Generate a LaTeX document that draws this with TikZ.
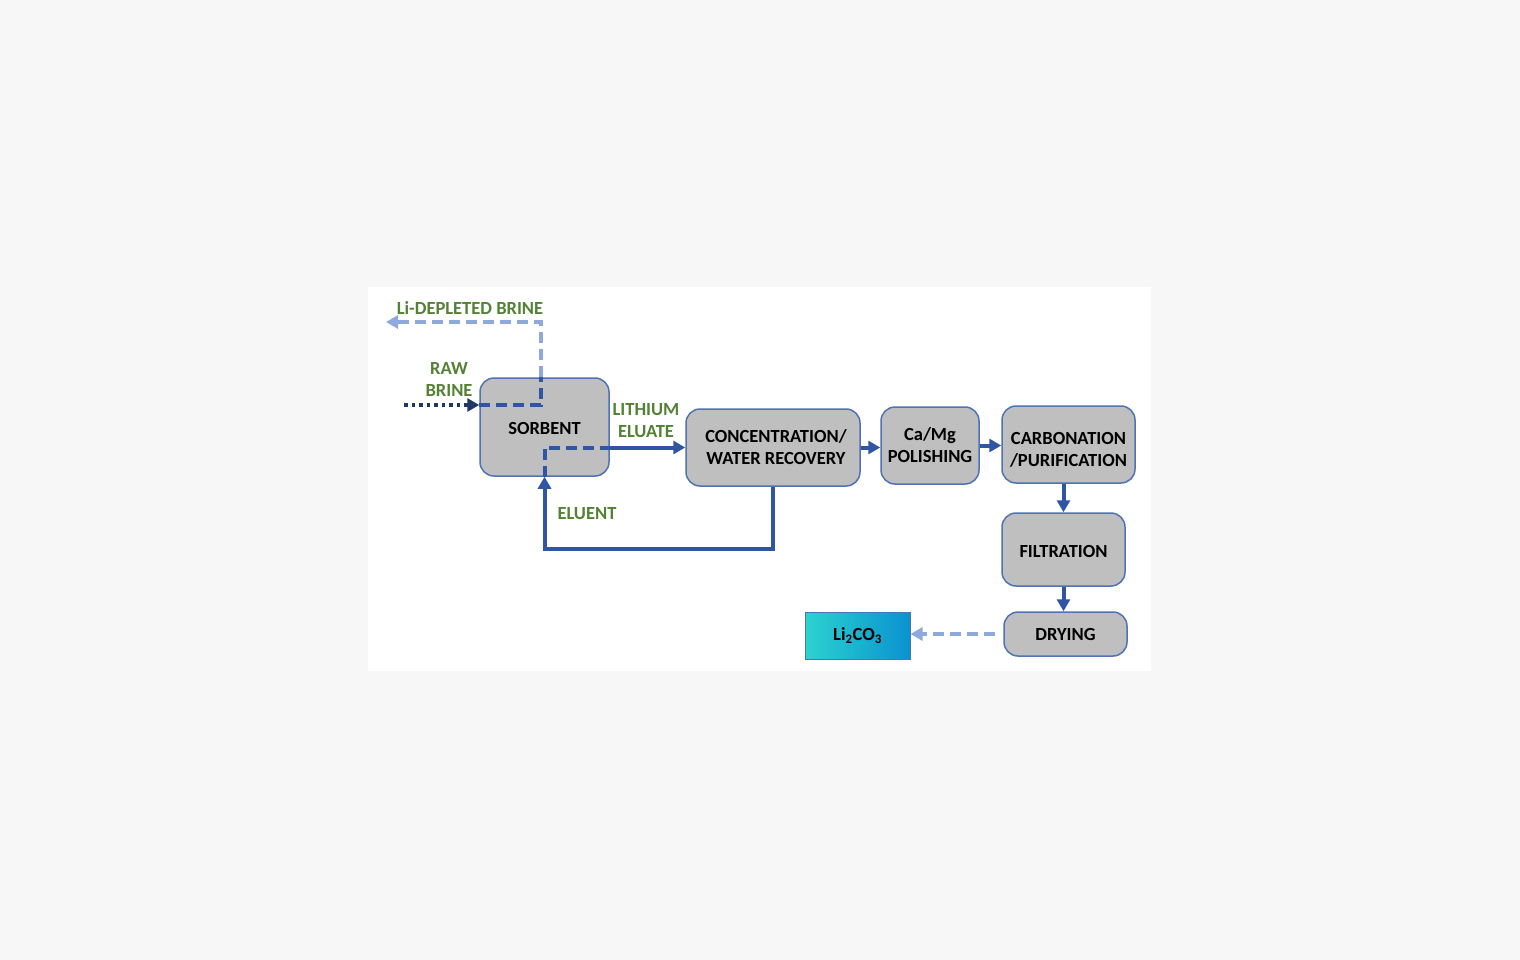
\documentclass[tikz,border=0pt]{standalone}
\usepackage{fontspec}
\setmainfont{Carlito}
\usetikzlibrary{arrows.meta,positioning}
\definecolor{pagegray}{HTML}{F7F7F7}
\definecolor{boxgray}{HTML}{BFBFBF}
\definecolor{boxedge}{HTML}{4F73B6}
\definecolor{flowblue}{HTML}{2F55A4}
\definecolor{lightflow}{HTML}{8EA9DB}
\definecolor{navyflow}{HTML}{1F3864}
\definecolor{labelgreen}{HTML}{548235}
\definecolor{tealA}{HTML}{2BD3D0}
\definecolor{tealB}{HTML}{0A92CF}

\begin{document}
\begin{tikzpicture}[x=1pt, y=-1pt,
    every node/.style={font=\bfseries\fontsize{18.5}{22}\selectfont, text=black},
    unitbox/.style={draw=boxedge, line width=1.5pt, fill=boxgray, rounded corners=14pt, align=center, inner sep=0pt},
    flowlbl/.style={text=labelgreen, align=center, inner sep=0pt},
    tip/.style={-{Triangle[length=12pt,width=13pt]}},
    flow/.style={draw=flowblue, line width=4pt},
    flowdash/.style={flow, dash pattern=on 11pt off 6pt},
    backdash/.style={draw=lightflow, line width=4pt, dash pattern=on 11pt off 6pt},
    feed/.style={draw=navyflow, line width=4pt, dash pattern=on 3.5pt off 4pt}]
        % Sfondo
        \fill[pagegray] (0,0) rectangle (1520,960);
        \fill[white] (368,287) rectangle (1151,671);

        % Unita di processo
        \node[unitbox, minimum width=129pt, minimum height=98pt] (sorbent) at (544.5,427) {\rule{0pt}{16pt}SORBENT};
        \node[unitbox, minimum width=174pt, minimum height=77pt] (conc) at (773,447.5) {\hspace*{6pt}CONCENTRATION/\\\hspace*{6pt}WATER RECOVERY};
        \node[unitbox, minimum width=98pt, minimum height=77pt] (camg) at (930,445.5) {Ca/Mg\\POLISHING};
        \node[unitbox, minimum width=133pt, minimum height=77pt] (carb) at (1068.5,444.5) {\rule{0pt}{22pt}CARBONATION\\/PURIFICATION};
        \node[unitbox, minimum width=123pt, minimum height=73pt] (filt) at (1063.5,549.5) {\rule{0pt}{16pt}FILTRATION};
        \node[unitbox, minimum width=123pt, minimum height=44pt] (dry) at (1065.5,634) {DRYING};
        \node[draw=boxedge, line width=1pt, shading=axis, shading angle=135, left color=tealA, right color=tealB, minimum width=105pt, minimum height=47pt, inner sep=0pt] (li) at (857.5,635.5) {Li\textsubscript{2}CO\textsubscript{3}};

        % Etichette
        \node[flowlbl] (depl) at (470,308) {Li-DEPLETED BRINE};
        \node[flowlbl] (raw) at (449,379) {RAW\\BRINE};
        \node[flowlbl] (lith) at (646,421) {LITHIUM\\ELUATE};
        \node[flowlbl] (eluent) at (587,514) {ELUENT};

        % Salamoia grezza / impoverita
        \coordinate (rawin) at (404,405);
        \coordinate (tap) at (541,405);
        \coordinate (deplout) at (386,322);
        \draw[feed, tip] (rawin) -- (rawin -| sorbent.west);
        \draw[flowdash] (rawin -| sorbent.west) -- (tap) -- (tap |- sorbent.north);
        \draw[backdash, tip] (tap |- sorbent.north) |- (deplout);

        % Eluato
        \draw[flowdash] (sorbent.south) |- (sorbent.east |- conc.west);
        \draw[flow, tip] (sorbent.east |- conc.west) -- (conc.west);

        % Eluente di ritorno
        \coordinate (loop) at (772,549);
        \draw[flow, tip] (conc.south) -- (conc.south |- loop) -| (sorbent.south);

        % Linea principale
        \draw[flow, tip] (conc.east) -- (conc.east -| camg.west);
        \draw[flow, tip] (camg.east) -- (camg.east -| carb.west);
        \draw[flow, tip] (filt.north |- carb.south) -- (filt.north);
        \draw[flow, tip] (filt.south) -- (filt.south |- dry.north);
        \draw[backdash, tip] ([xshift=-8pt]dry.west) -- (dry.west -| li.east);
    \end{tikzpicture}
\end{document}
